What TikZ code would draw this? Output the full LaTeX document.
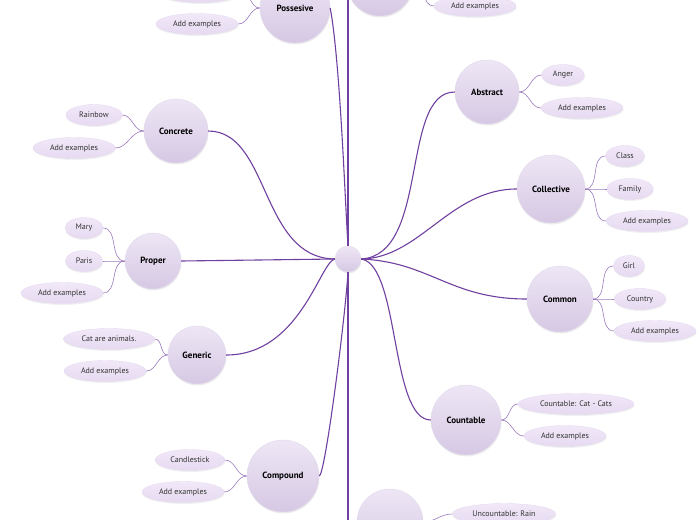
\documentclass[tikz,border=0pt]{standalone}
\usepackage{fontspec}
\setmainfont{PT Sans}
\usetikzlibrary{shadows}
\definecolor{edge}{HTML}{7040A0}
\definecolor{ctop}{HTML}{EEE6F5}
\definecolor{cbot}{HTML}{D6C8E4}
\definecolor{ltop}{HTML}{F1E8F8}
\definecolor{lbot}{HTML}{E6DAF1}
\tikzset{
 main/.style={circle,top color=ctop,bottom color=cbot,draw=cbot!70,minimum size=#1,inner sep=0pt,font=\bfseries\fontsize{9}{10}\selectfont,drop shadow={opacity=0.15,shadow xshift=0.5pt,shadow yshift=-1.5pt}},
 leaf/.style={ellipse,top color=ltop,bottom color=lbot,draw=lbot,inner xsep=5pt,inner ysep=3pt,minimum height=21pt,font=\fontsize{8}{9}\selectfont\color{black!80},drop shadow={opacity=0.12,shadow xshift=0.5pt,shadow yshift=-1.5pt}},
 con/.style={draw=edge,line width=1.1pt},
 lcon/.style={draw=edge!70,line width=0.6pt}
}
\usetikzlibrary{shapes.geometric}
\begin{document}
\begin{tikzpicture}[x=1pt,y=-1pt]
\useasboundingbox (0,0) rectangle (697,520);
% main nodes
\node[main=26pt] (c) at (348,259) {};
\node[main=70pt] (pos) at (295,8) {Possesive};
\node[main=66pt] (tr) at (380,-17) {};
\node[main=64pt] (abs) at (487,92) {Abstract};
\node[main=68pt] (col) at (551,189) {Collective};
\node[main=66pt] (com) at (560,299) {Common};
\node[main=70pt] (cnt) at (466,420) {Countable};
\node[main=66pt] (unc) at (390,522) {};
\node[main=64pt] (conc) at (176,131) {Concrete};
\node[main=56pt] (prop) at (153,261) {Proper};
\node[main=58pt] (gen) at (197,355) {Generic};
\node[main=72pt] (cmp) at (283,476) {Compound};
% leaves
\node[leaf] (p1) at (200,-8) {Add examples};
\node[leaf] (p2) at (197,24) {Add examples};
\node[leaf] (t1) at (475,6) {Add examples};
\node[leaf] (a1) at (563,75) {Anger};
\node[leaf] (a2) at (582,108) {Add examples};
\node[leaf] (o1) at (625,156) {Class};
\node[leaf] (o2) at (630,189) {Family};
\node[leaf] (o3) at (647,221) {Add examples};
\node[leaf] (m1) at (629,266) {Girl};
\node[leaf] (m2) at (640,299) {Country};
\node[leaf] (m3) at (655,331) {Add examples};
\node[leaf] (n1) at (576,404) {Countable: Cat - Cats};
\node[leaf] (n2) at (565,436) {Add examples};
\node[leaf] (u1) at (504,514) {Uncountable: Rain};
\node[leaf] (k1) at (94,115) {Rainbow};
\node[leaf] (k2) at (74,148) {Add examples};
\node[leaf] (r1) at (84,228) {Mary};
\node[leaf] (r2) at (84,261) {Paris};
\node[leaf] (r3) at (62,293) {Add examples};
\node[leaf] (g1) at (109,339) {Cat are animals.};
\node[leaf] (g2) at (105,371) {Add examples};
\node[leaf] (d1) at (190,460) {Candlestick};
\node[leaf] (d2) at (183,492) {Add examples};
% main connectors
\draw[con] (c.north) .. controls (345,200) and (340,60) .. (pos.east);
\draw[con] (c.north) -- (348,0);
\draw[con] (c.east) .. controls (430,255) and (400,92) .. (abs.west);
\draw[con] (c.east) .. controls (420,258) and (450,189) .. (col.west);
\draw[con] (c.east) .. controls (430,262) and (450,299) .. (com.west);
\draw[con] (c.east) .. controls (400,265) and (390,420) .. (cnt.west);
\draw[con] (c.south) -- (348,520);
\draw[con] (c.west) .. controls (260,258) and (270,131) .. (conc.east);
\draw[con] (c.west) -- (prop.east);
\draw[con] (c.west) .. controls (320,262) and (300,355) .. (gen.east);
\draw[con] (c.south) .. controls (345,320) and (325,476) .. (cmp.east);
% leaf connectors
\foreach \l/\m in {p1/pos,p2/pos,k1/conc,k2/conc,r1/prop,r2/prop,r3/prop,g1/gen,g2/gen,d1/cmp,d2/cmp}
  \draw[lcon] (\l.east) to[out=0,in=180] (\m.west);
\foreach \l/\m in {t1/tr,a1/abs,a2/abs,o1/col,o2/col,o3/col,m1/com,m2/com,m3/com,n1/cnt,n2/cnt,u1/unc}
  \draw[lcon] (\m.east) to[out=0,in=180] (\l.west);
\end{tikzpicture}
\end{document}
